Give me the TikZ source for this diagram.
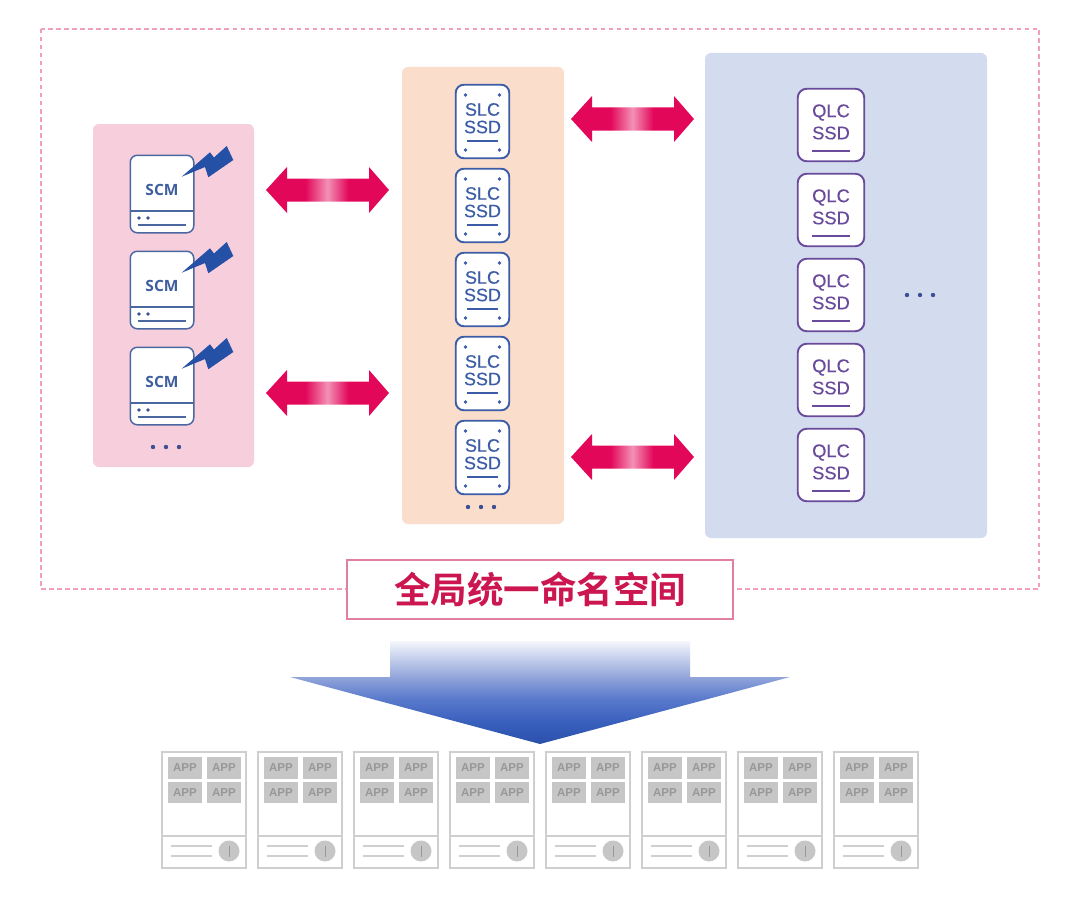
\documentclass[tikz,border=0pt]{standalone}
\usepackage{fontspec}
\setmainfont{Liberation Sans}
\newfontfamily\cjkbold{Noto Sans CJK SC}[BoldFont={Noto Sans CJK SC Bold}]
\newfontfamily\opensans{Open Sans}
\newfontfamily\semisans{Liberation Sans}[FakeBold=0.35]
\definecolor{dashpink}{HTML}{F2A0B8}
\definecolor{crim}{HTML}{E3075A}
\definecolor{crimlight}{HTML}{F391B5}
\definecolor{titlecol}{HTML}{CB1650}
\definecolor{titleframe}{HTML}{E07F9F}
\definecolor{panelpink}{HTML}{F6CEDC}
\definecolor{panelorange}{HTML}{FBDDCC}
\definecolor{panelblue}{HTML}{D3DBEE}
\definecolor{cardblue}{HTML}{4A679F}
\definecolor{textblue}{HTML}{3F5E9E}
\definecolor{slcblue}{HTML}{3B5CA6}
\definecolor{boltblue}{HTML}{2450A5}
\definecolor{qlcpurple}{HTML}{6A4A9B}
\definecolor{dotblue}{HTML}{3D4F94}
\definecolor{srvline}{HTML}{CFCFCF}
\definecolor{appfill}{HTML}{C6C6C6}
\definecolor{apptext}{HTML}{989898}
\definecolor{bigd}{HTML}{2A50AC}
\definecolor{bigb}{HTML}{3A60BE}
\definecolor{bigc}{HTML}{5A7ACB}
\definecolor{bigm}{HTML}{8FA3DA}
\definecolor{bigw}{HTML}{F4F6FC}
\pgfdeclarehorizontalshading{dblarrow}{100bp}{color(0bp)=(crim); color(41bp)=(crim); color(50bp)=(crimlight); color(58.5bp)=(crim); color(100bp)=(crim)}
\pgfdeclareverticalshading{bigdown}{100bp}{color(0bp)=(bigd); color(25bp)=(bigd); color(36bp)=(bigb); color(47bp)=(bigc); color(57bp)=(bigm); color(75bp)=(bigw); color(100bp)=(bigw)}
\tikzset{
  panel/.style={rounded corners=6pt,inner sep=0pt,draw=none},
  scmcard/.style={draw=cardblue,line width=1.5pt,fill=white,rounded corners=7pt,minimum width=63.5pt,minimum height=77.5pt,inner sep=0pt},
  slccard/.style={draw=slcblue,line width=1.9pt,fill=white,rounded corners=8pt,minimum width=53.5pt,minimum height=73.5pt,inner sep=0pt},
  qlccard/.style={draw=qlcpurple,line width=1.9pt,fill=white,rounded corners=9pt,minimum width=66.5pt,minimum height=72.5pt,inner sep=0pt},
  scmtext/.style={text=textblue,font=\opensans\fontsize{15.5}{16}\selectfont\bfseries,inner sep=0pt},
  slctext/.style={text=slcblue,font=\semisans\fontsize{18}{18}\selectfont,inner sep=0pt},
  qlctext/.style={text=qlcpurple,font=\semisans\fontsize{18.3}{19}\selectfont,inner sep=0pt},
  blockarrow/.style={shading=dblarrow,draw=none},
  dotm/.style={circle,fill=dotblue,inner sep=0pt,minimum size=4.4pt},
  server/.style={draw=srvline,line width=1.9pt,fill=white,minimum width=84pt,minimum height=116.5pt,inner sep=0pt},
  appbox/.style={fill=appfill,minimum width=34pt,minimum height=21.5pt,inner sep=0pt,text=apptext,font=\fontsize{11.5}{12}\selectfont\bfseries},
  srvrule/.style={draw=srvline,line width=1.2pt},
}
\newcommand{\dblarrow}[3]{% left tip x, y, name
  \path[blockarrow] (#1,#2) -- ++(21,-23) -- ++(0,11.5) -- ++(82,0) -- ++(0,-11.5) -- ++(20,23) -- ++(-20,23) -- ++(0,-11.5) -- ++(-82,0) -- ++(0,11.5) -- cycle;
  \coordinate (#3) at (#1+61.5,#2);
}
\begin{document}
\begin{tikzpicture}[x=1pt,y=-1pt]
\useasboundingbox (0,0) rectangle (1080,899);
\fill[white] (0,0) rectangle (1080,899);
% outer dashed frame
\draw[dashpink,line width=1.05pt,dash pattern=on 4.5pt off 3.5pt] (41,29) rectangle (1039,589);
% panels
\node[panel,fill=panelpink,minimum width=161pt,minimum height=343pt] (ppink) at (173.5,295.5) {};
\node[panel,fill=panelorange,minimum width=162pt,minimum height=457pt] (porange) at (483,295.5) {};
\node[panel,fill=panelblue,minimum width=282pt,minimum height=485pt] (pblue) at (846,295.5) {};
% SCM cards
\foreach \i/\dy in {1/0,2/96,3/192}{
  \begin{scope}[yshift=-\dy pt]
    \node[scmcard] (scm\i) at (162,194) {};
    \draw[cardblue,line width=1.3pt] (130,211) -- (194,211);
    \fill[dotblue] (139,218) circle (1.9) (148,218) circle (1.9);
    \draw[cardblue,line width=1.3pt] (138,225) -- (186,225);
    \node[scmtext] (scmt\i) at (162,190) {SCM};
    \fill[boltblue] (181.7,176.7) -- (210,152.3) -- (214,157.5) -- (226.7,146) -- (233.3,160) -- (208.3,177.3) -- (205,167) -- cycle;
  \end{scope}
}
\node[dotm] (sd1) at (153,447) {};
\node[dotm] (sd2) at (166,447) {};
\node[dotm] (sd3) at (179,447) {};
% SLC cards
\foreach \i/\dy in {1/0,2/84,3/168,4/252,5/336}{
  \begin{scope}[yshift=-\dy pt]
    \node[slccard] (slc\i) at (482.5,121.5) {};
    \fill[slcblue] (465.5,95) circle (1.8) (499.5,95) circle (1.8) (465.5,150) circle (1.8) (499.5,150) circle (1.8);
    \node[slctext] (slca\i) at (482.5,109.5) {SLC};
    \node[slctext] (slcb\i) at (482.5,127) {SSD};
    \draw[slcblue,line width=1.5pt] (467,141) -- (498,141);
  \end{scope}
}
\node[dotm] (ld1) at (468,507) {};
\node[dotm] (ld2) at (481,507) {};
\node[dotm] (ld3) at (494,507) {};
% QLC cards
\foreach \i/\dy in {1/0,2/85,3/170,4/255,5/340}{
  \begin{scope}[yshift=-\dy pt]
    \node[qlccard] (qlc\i) at (831,125) {};
    \node[qlctext] (qlca\i) at (831,112.5) {QLC};
    \node[qlctext] (qlcb\i) at (831,133) {SSD};
    \draw[qlcpurple,line width=1.5pt] (812,151) -- (850,151);
  \end{scope}
}
\node[dotm] (qd1) at (907,295) {};
\node[dotm] (qd2) at (920,295) {};
\node[dotm] (qd3) at (933,295) {};
% double arrows
\dblarrow{266}{190}{a1}
\dblarrow{266}{393}{a2}
\dblarrow{571}{119}{a3}
\dblarrow{571}{457}{a4}
% title
\node[draw=titleframe,line width=1.05pt,fill=white,minimum width=386pt,minimum height=59pt,inner sep=0pt,text=titlecol,font=\cjkbold\fontsize{36.5}{38}\selectfont\bfseries] (title) at (540,589.5) {全局统一命名空间};
% big arrow
\path[shading=bigdown,draw=none] (390,641) -- (690,641) -- (690,677) -- (790,677) -- (540,744) -- (290,677) -- (390,677) -- cycle;
% servers
\foreach \i/\dx in {1/0,2/96,3/192,4/288,5/384,6/480,7/576,8/672}{
  \begin{scope}[xshift=\dx pt]
    \node[server] (srv\i) at (204,810) {};
    \draw[srvline,line width=1.9pt] (162,836) -- (246,836);
    \node[appbox] (app\i a) at (185,768) {APP};
    \node[appbox] (app\i b) at (224,768) {APP};
    \node[appbox] (app\i c) at (185,792.5) {APP};
    \node[appbox] (app\i d) at (224,792.5) {APP};
    \draw[srvrule] (171,846) -- (212,846);
    \draw[srvrule] (171,856) -- (212,856);
    \node[circle,fill=appfill,minimum size=21pt,inner sep=0pt] (led\i) at (229,851) {};
    \draw[draw=apptext,line width=1pt] (229,845.5) -- (229,856.5);
  \end{scope}
}
\end{tikzpicture}
\end{document}
